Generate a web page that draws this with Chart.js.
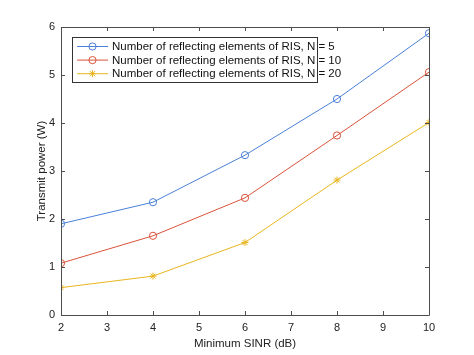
<!DOCTYPE html>
<html><head><meta charset="utf-8">
<script src="https://cdn.jsdelivr.net/npm/chart.js@4"></script>
<style>html,body{margin:0;padding:0;background:#fff}#w{width:474px;height:355px}</style>
</head><body><div id="w"><canvas id="c" width="474" height="355"></canvas></div>
<script>
const sinr = [2, 4, 6, 8, 10];
const powerN5 = [1.90, 2.35, 3.33, 4.50, 5.87];
const powerN10 = [1.08, 1.65, 2.44, 3.74, 5.06];
const powerN20 = [0.57, 0.81, 1.51, 2.81, 4.01];
const labels = ['Number of reflecting elements of RIS, N = 5','Number of reflecting elements of RIS, N = 10','Number of reflecting elements of RIS, N = 20'];
const xTicks = [2,3,4,5,6,7,8,9,10];
const yTicks = [0,1,2,3,4,5,6];

const FONT = 'Liberation Sans, Arial, Helvetica, sans-serif';
const AX = '#4d4d4d';
const colors = ['#4a80d8','#d9533a','#e9b520'];
const styles = ['circle','circle','star'];
const series = [powerN5, powerN10, powerN20];

const ds = series.map((s,i)=>({
  label: labels[i],
  data: sinr.map((x,j)=>({x, y:s[j]})),
  borderColor: colors[i], backgroundColor: 'rgba(0,0,0,0)',
  pointBorderColor: colors[i], pointBackgroundColor: 'rgba(0,0,0,0)',
  borderWidth: 1, pointStyle: styles[i], pointRadius: i===2?3.5:3.6, pointBorderWidth: 1,
  tension: 0
}));

const frame = {
  id:'frame',
  afterDraw(ch){
    const c = ch.ctx, a = ch.chartArea, xs = ch.scales.x, ys = ch.scales.y;
    c.save();
    c.strokeStyle = AX; c.lineWidth = 1;
    c.beginPath();
    c.rect(Math.round(a.left)+0.5, Math.round(a.top)+0.5, Math.round(a.right-a.left), Math.round(a.bottom-a.top));
    c.stroke();
    const L=4;
    c.beginPath();
    xTicks.forEach(v=>{const px=Math.round(xs.getPixelForValue(v))+0.5;
      c.moveTo(px,a.bottom); c.lineTo(px,a.bottom-L);
      c.moveTo(px,a.top); c.lineTo(px,a.top+L);});
    yTicks.forEach(v=>{const py=Math.round(ys.getPixelForValue(v))+0.5;
      c.moveTo(a.left,py); c.lineTo(a.left+L,py);
      c.moveTo(a.right,py); c.lineTo(a.right-L,py);});
    c.stroke();
    // legend
    const lx=72, ly=37, lw=245, lh=45;
    c.fillStyle='#fff'; c.fillRect(lx,ly,lw,lh);
    c.strokeStyle='#333'; c.strokeRect(lx+0.5,ly+0.5,lw,lh);
    c.font = '11.5px '+FONT; c.textBaseline='middle'; c.textAlign='left';
    ch.data.datasets.forEach((d,i)=>{
      const y = ly+9.5+i*13.6;
      c.strokeStyle=d.borderColor; c.lineWidth=1;
      c.beginPath(); c.moveTo(lx+5,y); c.lineTo(lx+36,y); c.stroke();
      c.fillStyle='rgba(0,0,0,0)';
      Chart.helpers.drawPoint(c,{pointStyle:d.pointStyle,radius:3.6,borderWidth:1},lx+20.5,y);
      c.fillStyle='#111'; c.fillText(d.label, lx+40, y+0.5);
    });
    c.restore();
  }
};

new Chart(document.getElementById('c'),{
  type:'line',
  data:{datasets:ds},
  options:{
    responsive:false, animation:false, devicePixelRatio:1,
    layout:{padding:{top:27,right:45,left:35,bottom:0}},
    plugins:{legend:{display:false},tooltip:{enabled:false}},
    scales:{
      x:{type:'linear',min:2,max:10,
        afterBuildTicks(s){s.ticks=xTicks.map(v=>({value:v}));},
        afterFit(s){s.height=40;},
        grid:{display:false,drawTicks:false}, border:{display:false},
        ticks:{color:'#222',font:{family:FONT,size:11},padding:6,maxRotation:0},
        title:{display:true,text:'Minimum SINR (dB)',color:'#222',font:{family:FONT,size:11.5},padding:{top:1,bottom:4}}
      },
      y:{type:'linear',min:0,max:6,
        afterBuildTicks(s){s.ticks=yTicks.map(v=>({value:v}));},
        afterFit(s){s.width=26;},
        grid:{display:false,drawTicks:false}, border:{display:false},
        ticks:{color:'#222',font:{family:FONT,size:11},padding:6},
        title:{display:true,text:'Transmit power (W)',color:'#222',font:{family:FONT,size:11.5},padding:{top:0,bottom:0}}
      }
    }
  },
  plugins:[frame]
});
</script></body></html>
